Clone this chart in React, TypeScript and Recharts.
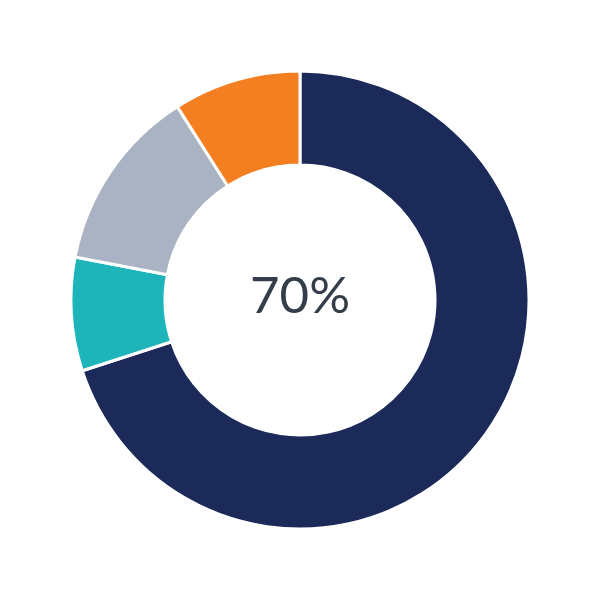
import { Cell, Pie, PieChart } from "recharts";

const names = ["Primary", "Teal", "Gray", "Orange"];
const values = [70, 8, 13, 9];
const colors = ["#1c2a59", "#1db5b9", "#a9b3c3", "#f37f20"];

const data = names.map((name, i) => ({ name, value: values[i] }));

export default function App() {
  return (
    <div style={{ width: 600, height: 600, margin: -8, background: "#fff" }}>
      <PieChart width={600} height={600} margin={{ top: 0, right: 0, bottom: 0, left: 0 }}>
        <Pie
          data={data}
          dataKey="value"
          cx={300}
          cy={300}
          innerRadius={135}
          outerRadius={229}
          startAngle={90}
          endAngle={-270}
          stroke="#ffffff"
          strokeWidth={3}
          isAnimationActive={false}
        >
          {data.map((d, i) => (
            <Cell key={d.name} fill={colors[i]} />
          ))}
        </Pie>
        <text
          x={300}
          y={293}
          textAnchor="middle"
          dominantBaseline="central"
          fontFamily="Lato, sans-serif"
          fontWeight={400}
          fontSize={51}
          fill="#343e4a"
        >
          70%
        </text>
      </PieChart>
    </div>
  );
}
